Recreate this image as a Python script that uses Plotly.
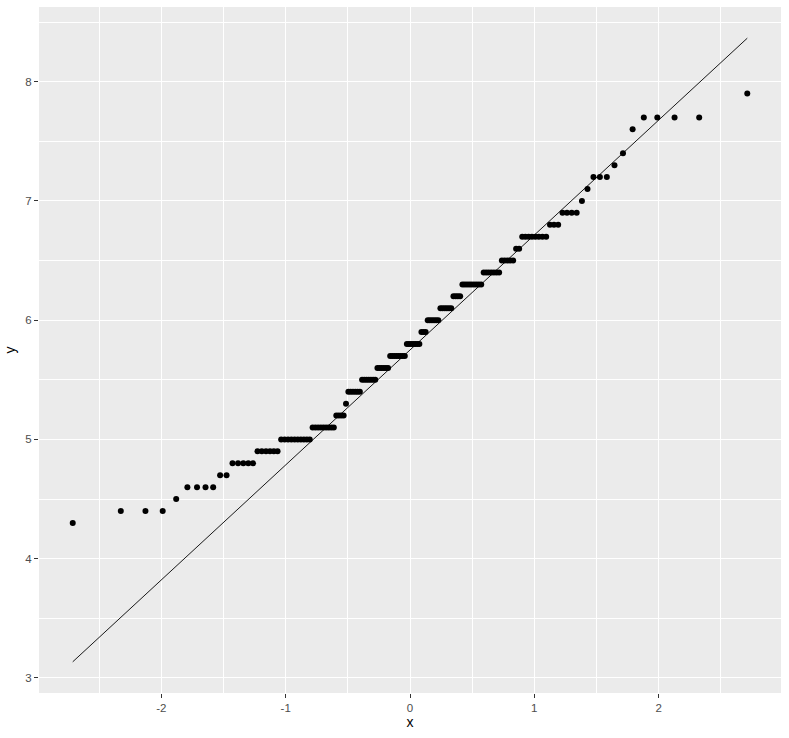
import plotly.graph_objects as go
from statistics import NormalDist

# iris Sepal.Length: distinct values and their counts
values = [4.3, 4.4, 4.5, 4.6, 4.7, 4.8, 4.9, 5.0, 5.1, 5.2, 5.3, 5.4, 5.5, 5.6, 5.7, 5.8, 5.9,
          6.0, 6.1, 6.2, 6.3, 6.4, 6.5, 6.6, 6.7, 6.8, 6.9, 7.0, 7.1, 7.2, 7.3, 7.4, 7.6, 7.7, 7.9]
counts = [1, 3, 1, 4, 2, 5, 6, 10, 9, 4, 1, 6, 7, 6, 8, 7, 3,
          6, 6, 4, 9, 7, 5, 2, 8, 3, 4, 1, 1, 3, 1, 1, 1, 4, 1]
x_ticks = [-2, -1, 0, 1, 2]
x_tick_labels = ["-2", "-1", "0", "1", "2"]
y_ticks = [3, 4, 5, 6, 7, 8]
y_tick_labels = ["3", "4", "5", "6", "7", "8"]

sample = []
for v, c in zip(values, counts):
    sample += [v] * c
sample.sort()
n = len(sample)
nd = NormalDist()
theo = [nd.inv_cdf((i + 0.5) / n) for i in range(n)]

# qq line through quartiles (quantile type 7)
def q7(s, p):
    h = (len(s) - 1) * p
    lo = int(h)
    return s[lo] + (h - lo) * (s[min(lo + 1, len(s) - 1)] - s[lo])

y1, y3 = q7(sample, 0.25), q7(sample, 0.75)
x1, x3 = nd.inv_cdf(0.25), nd.inv_cdf(0.75)
slope = (y3 - y1) / (x3 - x1)
intercept = y1 - slope * x1
lx = [min(theo), max(theo)]
ly = [intercept + slope * v for v in lx]

fig = go.Figure()
fig.add_trace(go.Scatter(x=theo, y=sample, mode="markers",
                         marker=dict(color="black", size=6), showlegend=False))
fig.add_trace(go.Scatter(x=lx, y=ly, mode="lines",
                         line=dict(color="black", width=0.9), showlegend=False))

xr = [lx[0] - 0.05 * (lx[1] - lx[0]), lx[1] + 0.05 * (lx[1] - lx[0])]
ymin, ymax = min(min(sample), min(ly)), max(max(sample), max(ly))
yr = [ymin - 0.05 * (ymax - ymin), ymax + 0.05 * (ymax - ymin)]

font_family = "Liberation Sans, Arial"
axis_common = dict(showgrid=True, gridcolor="white", gridwidth=1.1, zeroline=False,
                   ticks="outside", ticklen=4, tickcolor="#333333", tickwidth=1,
                   tickfont=dict(family=font_family, size=11.5, color="#4D4D4D"),
                   showline=False, automargin=False)
fig.update_xaxes(range=xr, tickvals=x_ticks, ticktext=x_tick_labels,
                 title=dict(text="x", font=dict(family=font_family, size=14, color="black"), standoff=4),
                 minor=dict(showgrid=True, gridcolor="white", gridwidth=0.5,
                            tickvals=[-2.5, -1.5, -0.5, 0.5, 1.5, 2.5], ticks=""),
                 **axis_common)
fig.update_yaxes(range=yr, tickvals=y_ticks, ticktext=y_tick_labels,
                 title=dict(text="y", font=dict(family=font_family, size=14, color="black"), standoff=6),
                 minor=dict(showgrid=True, gridcolor="white", gridwidth=0.5,
                            tickvals=[3.5, 4.5, 5.5, 6.5, 7.5, 8.5], ticks=""),
                 **axis_common)
fig.update_layout(width=789, height=738, plot_bgcolor="#EBEBEB", paper_bgcolor="white",
                  margin=dict(l=39, r=8, t=7, b=45), hovermode=False)
fig.write_html("out.html", config={"displayModeBar": False},
               post_script="document.body.style.margin='0px';")
